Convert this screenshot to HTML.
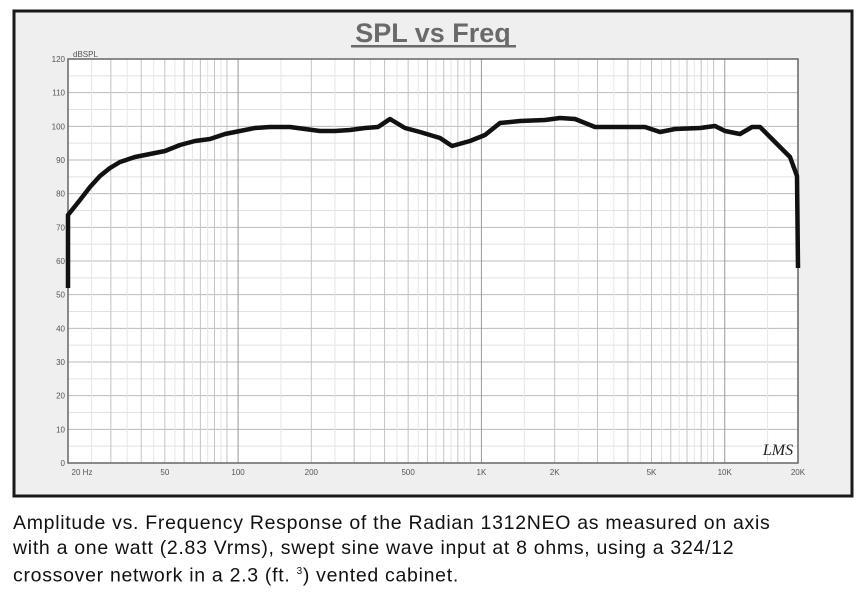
<!DOCTYPE html>
<html><head><meta charset="utf-8"><style>
body{margin:0;background:#fff;width:865px;height:598px;overflow:hidden;font-family:"Liberation Sans",sans-serif}
.cap{position:absolute;left:13px;top:511px;font-size:19.5px;letter-spacing:0.7px;line-height:24.5px;color:#111;white-space:nowrap}
</style></head><body>
<svg width="865" height="510" style="position:absolute;left:0;top:0">
<rect x="14" y="11" width="838" height="485" fill="#efefef" stroke="#1a1a1a" stroke-width="3"/>
<text x="433" y="42" text-anchor="middle" font-size="27" font-weight="bold" fill="#6a6a6a" font-family="Liberation Sans">SPL vs Freq</text>
<rect x="351" y="45" width="165" height="2.5" fill="#6a6a6a"/>
<rect x="68" y="59" width="730" height="404" fill="#fff"/>
<g id="grid"></g>
<rect x="68" y="59" width="730" height="404" fill="none" stroke="#666" stroke-width="1.5"/>
<polyline fill="none" stroke="#111" stroke-width="4.5" stroke-linejoin="round" points="68,288 68,215 80,200 90,187 100,176 110,168 120,162 135,157 150,154 165,151 180,145 195,141 210,139 225,134 240,131 255,128 270,127 290,127 305,129 320,131 335,131 350,130 365,128 378,127 390,119 405,128 420,132 440,138 452,146 470,141 485,135 500,123 520,121 545,120 560,118 575,119 595,127 620,127 645,127 660,132 675,129 700,128 715,126 725,131 740,134 752,127 760,127 775,142 790,157 797,176 798,268"/>
<text x="73" y="57" font-size="8" fill="#555">dBSPL</text>
<g id="yl" font-size="8" fill="#555" text-anchor="end"></g>
<g id="xl" font-size="8" fill="#555" text-anchor="middle"></g>
<text x="778" y="455" font-size="16" font-style="italic" fill="#222" text-anchor="middle" font-family="Liberation Serif">LMS</text>
</svg>
<div class="cap">Amplitude vs. Frequency Response of the Radian 1312NEO as measured on axis<br>with a one watt (2.83 Vrms), swept sine wave input at 8 ohms, using a 324/12<br>crossover network in a 2.3 (ft. <sup style="font-size:10px">3</sup>) vented cabinet.</div>
<script>
var ns="http://www.w3.org/2000/svg",g=document.getElementById('grid');
function ln(x1,y1,x2,y2,c,w){var l=document.createElementNS(ns,'line');l.setAttribute('x1',x1);l.setAttribute('y1',y1);l.setAttribute('x2',x2);l.setAttribute('y2',y2);l.setAttribute('stroke',c);l.setAttribute('stroke-width',w);g.appendChild(l);}
function X(f){return 68+243.33*Math.log10(f/20);}
for(var d=0;d<=120;d+=5){var y=463-d*3.3667;ln(68,y,798,y,d%10?'#e2e2e2':'#bbb',1);}
[10,100,1000,10000].forEach(function(dec){for(var m=1;m<10;m++){var f=dec*m;if(f<20||f>20000)continue;ln(X(f),59,X(f),463,m==1?'#999':'#c4c4c4',1);
 if(m<9){var h=dec*(m+0.5);if(h>20&&h<20000)ln(X(h),59,X(h),463,'#e6e6e6',1);}}});
ln(798,59,798,463,'#999',1);
var yl=document.getElementById('yl');
for(var d=0;d<=120;d+=10){var t=document.createElementNS(ns,'text');t.setAttribute('x',65);t.setAttribute('y',463-d*3.3667+3);t.textContent=d;yl.appendChild(t);}
var xl=document.getElementById('xl');
[[20,'20  Hz',82],[50,'50'],[100,'100'],[200,'200'],[500,'500'],[1000,'1K'],[2000,'2K'],[5000,'5K'],[10000,'10K'],[20000,'20K']].forEach(function(a){var t=document.createElementNS(ns,'text');t.setAttribute('x',a[2]||X(a[0]));t.setAttribute('y',475);t.textContent=a[1];xl.appendChild(t);});
</script>
</body></html>
